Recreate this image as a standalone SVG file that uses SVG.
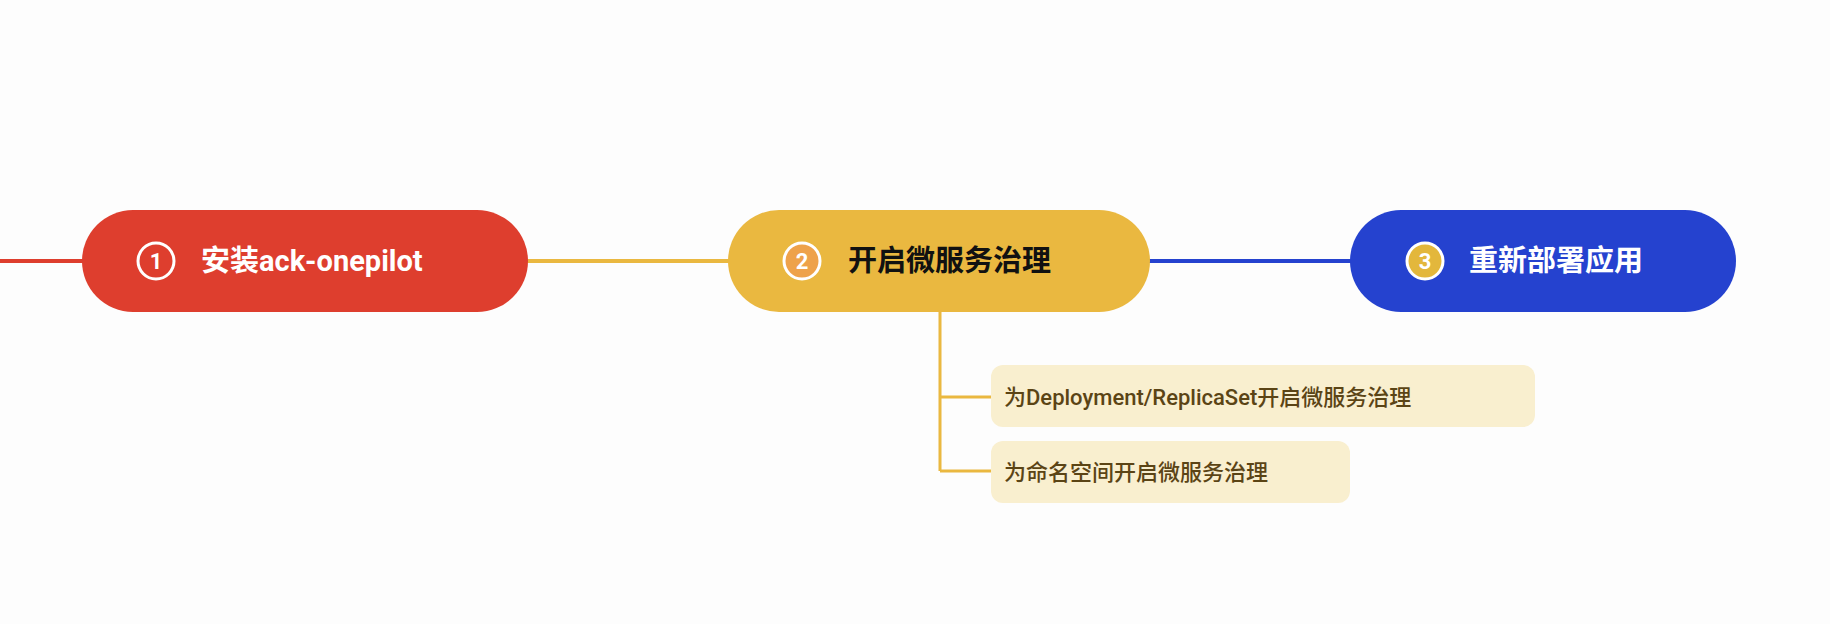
<svg xmlns="http://www.w3.org/2000/svg" width="1830" height="624" viewBox="0 0 1830 624">
<style>
.t{font-family:Roboto,"Noto Sans CJK SC",sans-serif;font-weight:bold;font-size:29px;dominant-baseline:central}
.n{font-family:Roboto,sans-serif;font-weight:bold;font-size:22px;fill:#fff;text-anchor:middle;dominant-baseline:central}
.s{font-family:Roboto,"Noto Sans CJK SC",sans-serif;font-weight:500;font-size:22px;fill:#5b4415;dominant-baseline:central}
.sub{fill:#f9efcf}
</style>
<rect width="1830" height="624" fill="#fdfdfd"/>
<g id="connectors" fill="none" stroke-width="4">
<line x1="0" y1="261" x2="84" y2="261" stroke="#de3e2e"/>
<line x1="526" y1="261" x2="730" y2="261" stroke="#eab840"/>
<line x1="1148" y1="261" x2="1352" y2="261" stroke="#2542cf"/>
<path d="M940 312V471M940 397H992M940 471H992" stroke="#eab840" stroke-width="3"/>
</g>
<g id="node1">
<rect x="82" y="210" width="446" height="102" rx="51" fill="#de3e2e"/>
<circle cx="156" cy="261" r="18" fill="none" stroke="#fff" stroke-width="3"/>
<text class="n" x="156" y="261">1</text>
<text class="t" x="201" y="261" fill="#fff">安装ack-onepilot</text>
</g>
<g id="node2">
<rect x="728" y="210" width="422" height="102" rx="51" fill="#eab840"/>
<circle cx="802" cy="261" r="18" fill="#eea24a" stroke="#fff" stroke-width="3"/>
<text class="n" x="802" y="261">2</text>
<text class="t" x="848" y="261" fill="#111">开启微服务治理</text>
</g>
<g id="node3">
<rect x="1350" y="210" width="386" height="102" rx="51" fill="#2542cf"/>
<circle cx="1425" cy="261" r="18" fill="#e3b73c" stroke="#fff" stroke-width="3"/>
<text class="n" x="1425" y="261">3</text>
<text class="t" x="1469" y="261" fill="#fff">重新部署应用</text>
</g>
<g id="sub1">
<rect class="sub" x="991" y="365" width="544" height="62" rx="12"/>
<text class="s" x="1004" y="397">为Deployment/ReplicaSet开启微服务治理</text>
</g>
<g id="sub2">
<rect class="sub" x="991" y="441" width="359" height="62" rx="12"/>
<text class="s" x="1004" y="472">为命名空间开启微服务治理</text>
</g>
</svg>
